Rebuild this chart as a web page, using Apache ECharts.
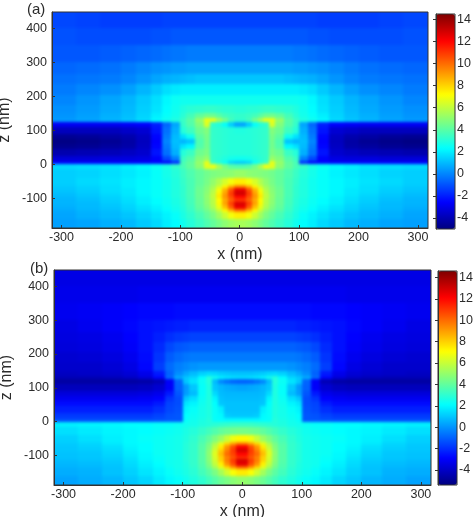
<!DOCTYPE html>
<html>
<head>
<meta charset="utf-8">
<script src="https://cdn.jsdelivr.net/npm/echarts@6/dist/echarts.min.js"></script>
<style>
html,body{margin:0;background:#fff}
#page{position:relative;width:474px;height:517px;overflow:hidden}
#chart{position:absolute;left:0;top:0;width:474px;height:517px}
.clip{position:absolute;overflow:hidden}
.heat{position:absolute;left:-12px;top:-12px;filter:blur(1.6px)}
</style>
</head>
<body>
<div id="page">
	<div class="clip" style="left:52px;top:12px;width:376px;height:216px"><div class="heat" id="heatA" style="width:400px;height:240px"></div></div>
	<div class="clip" style="left:54px;top:270px;width:377px;height:215px"><div class="heat" id="heatB" style="width:401px;height:239px"></div></div>
	<div id="chart"></div>
</div>
<script>
// cell edges in nm, the maps are mirror symmetric so only x>=0 is listed
var xEdges = [0,10,20,30,40,50,60,75,90,100,115,130,150,175,200,235,275,317];
var zEdges = [448,400,350,300,265,235,205,175,150,135,125,110,90,75,60,45,25,10,0,-15,-40,-60,-70,-80,-90,-100,-110,-120,-130,-140,-160,-187];
var xTicks = [-300,-200,-100,0,100,200,300];
var zTicks = [-100,0,100,200,300,400];
var barTicks = [-4,-2,0,2,4,6,8,10,12,14];

// one row per z cell, from x=0 outward
var mapA = [
[-1.3,-1.3,-1.3,-1.3,-1.3,-1.3,-1.3,-1.3,-1.3,-1.3,-1.3,-1.4,-1.4,-1.4,-1.4,-1.3,-1.2],
[-0.9,-0.9,-0.9,-0.9,-0.9,-0.9,-0.9,-0.9,-0.9,-0.9,-1,-1,-1.1,-1.1,-1.1,-1.1,-1],
[-0.2,-0.2,-0.2,-0.2,-0.2,-0.2,-0.2,-0.2,-0.3,-0.3,-0.4,-0.5,-0.6,-0.7,-0.8,-0.9,-0.9],
[0.5,0.5,0.5,0.5,0.5,0.5,0.5,0.5,0.4,0.4,0.3,0.2,0,-0.2,-0.4,-0.5,-0.6],
[1.2,1.2,1.2,1.2,1.2,1.2,1.2,1.1,1,0.9,0.8,0.6,0.3,0,-0.2,-0.3,-0.4],
[2,2,2,2,2,2,2,2,2,1.9,1.7,1.3,0.9,0.5,0.2,0,-0.2],
[2.6,2.6,2.6,2.6,2.6,2.6,2.6,2.6,2.6,2.5,2.2,1.7,1.3,0.9,0.6,0.3,0],
[3,3.1,3.1,3.2,3.3,3.3,3.2,3.1,2.9,2.6,2.3,1.8,1.4,1,0.7,0.4,0.2],
[3.3,3.4,3.6,4,4.4,4.5,4.2,3.6,3.1,2.7,2.4,2,1.5,1.1,0.8,0.5,0.3],
[3.2,3.6,4.6,5.5,6.8,6.8,5.2,4,3.4,2.9,2.6,2.2,1.6,1.2,0.9,0.6,0.4],
[0.6,1.4,2.4,3,3.2,6.5,4.8,3.9,3.3,0.6,-0.6,-2,-2.6,-2.7,-2.8,-2.8,-2.8],
[2.9,3,3.1,3.2,3.3,4.8,4.4,3.5,3,0.8,-0.4,-2.2,-3.4,-3.6,-3.8,-3.8,-3.8],
[3,3,3.1,3.2,3.3,4.6,4.1,2.6,1.8,1,-0.2,-2.5,-3.7,-4.1,-4.3,-4.5,-4.6],
[3,3,3.1,3.2,3.3,4.5,3.8,1.2,0.9,1.1,0,-2.6,-3.8,-4.3,-4.6,-4.8,-4.9],
[3,3,3.1,3.2,3.3,4.5,3.9,2.2,1.8,1,-0.2,-2.5,-3.7,-4.2,-4.4,-4.6,-4.7],
[3,3,3.1,3.2,3.3,4.7,4.4,3.4,3,0.8,-0.4,-2.2,-3.5,-3.7,-3.9,-4,-4.1],
[2.6,2.7,2.9,3.1,3.3,5.2,4.8,3.9,3.4,-0.1,-1.2,-2.6,-3.1,-3.2,-3.2,-3.3,-3.3],
[1.2,1.5,2.4,3,3.4,6.8,5.2,4.2,3.7,-1.8,-2.6,-2.5,-2.6,-2.6,-2.6,-2.6,-2.6],
[3.8,4,4.6,5.5,6.8,6.6,5,4.2,3.7,3.3,2.8,2.5,2.2,2,1.8,1.7,1.6],
[5.2,5,4.9,4.8,4.7,4.5,4.2,3.8,3.4,3,2.7,2.4,2.1,1.9,1.7,1.5,1.4],
[7.5,7,6.4,5.7,5.1,4.6,4.2,3.7,3.3,2.9,2.6,2.4,2.2,2,1.8,1.6,1.4],
[9.6,8.6,7.4,6.3,5.4,4.8,4.3,3.7,3.2,2.9,2.6,2.4,2.2,2,1.7,1.5,1.3],
[12.5,10.5,8.6,7,5.7,4.9,4.4,3.7,3.2,2.9,2.6,2.4,2.2,1.9,1.7,1.4,1.2],
[13,11,9,7.4,5.9,5,4.4,3.7,3.2,2.9,2.6,2.4,2.2,1.9,1.6,1.3,1.1],
[12,10.6,9.2,7.6,6,5.1,4.4,3.7,3.2,2.9,2.6,2.4,2.1,1.8,1.5,1.2,1],
[11.2,10.2,8.8,7.2,5.8,5,4.3,3.6,3.1,2.8,2.5,2.3,2,1.7,1.4,1.1,0.9],
[12.8,10.9,9,7.3,5.8,5,4.3,3.6,3.1,2.8,2.5,2.3,2,1.6,1.3,1,0.9],
[12.4,10.3,8.4,6.8,5.6,4.8,4.2,3.5,3,2.7,2.4,2.1,1.8,1.5,1.2,1,0.8],
[9.8,8.6,7.3,6.1,5.1,4.5,4,3.4,2.9,2.6,2.3,2,1.7,1.4,1.1,0.9,0.7],
[7.5,7,6.2,5.4,4.7,4.2,3.7,3.2,2.8,2.4,2.1,1.8,1.5,1.2,1,0.8,0.6],
[5.5,5.3,5,4.6,4.2,3.8,3.4,3,2.6,2.3,2,1.6,1.3,1,0.8,0.6,0.5]
];
var mapB = [
[-3.4,-3.4,-3.4,-3.4,-3.4,-3.4,-3.4,-3.4,-3.4,-3.4,-3.4,-3.4,-3.4,-3.4,-3.4,-3.4,-3.4],
[-3.2,-3.2,-3.2,-3.2,-3.2,-3.2,-3.2,-3.2,-3.2,-3.2,-3.2,-3.2,-3.2,-3.3,-3.3,-3.3,-3.3],
[-2.7,-2.7,-2.7,-2.7,-2.7,-2.7,-2.7,-2.7,-2.7,-2.7,-2.8,-2.8,-2.8,-2.9,-3,-3.1,-3.2],
[-2.2,-2.2,-2.2,-2.2,-2.2,-2.2,-2.2,-2.2,-2.3,-2.3,-2.4,-2.5,-2.6,-2.8,-3,-3.2,-3.4],
[-1.6,-1.6,-1.6,-1.6,-1.6,-1.6,-1.6,-1.6,-1.7,-1.8,-2,-2.3,-2.6,-2.9,-3.2,-3.4,-3.5],
[-1,-1,-1,-1,-1,-1,-1,-1,-1.1,-1.2,-1.5,-2.1,-2.6,-3,-3.3,-3.5,-3.6],
[-0.5,-0.5,-0.5,-0.5,-0.5,-0.5,-0.5,-0.5,-0.6,-0.8,-1.1,-1.9,-2.7,-3.2,-3.5,-3.7,-3.8],
[0.1,0.1,0.1,0.1,0.1,0.1,0.1,0,-0.2,-0.4,-0.8,-1.7,-2.8,-3.4,-3.7,-3.9,-3.9],
[0.9,0.9,1,1.1,1.3,1.4,1.2,0.8,0.4,-0.1,-1,-2.4,-3.3,-3.7,-3.9,-4,-4.1],
[1.5,1.6,1.7,1.9,2.4,2.8,2.1,1.3,1,0.5,-0.8,-2.8,-3.6,-4,-4.2,-4.3,-4.3],
[-1,-0.9,-0.6,-0.2,0.8,2.8,2.3,1.6,1,-0.9,-3,-4.3,-4.6,-4.7,-4.7,-4.7,-4.7],
[0.3,0.4,0.5,0.7,1,2.7,2.2,1,0.1,-1,-3,-3.8,-4.1,-4.2,-4.2,-4.2,-4.2],
[0.7,0.7,0.7,0.8,1.4,2.7,2.2,0.8,0.2,-1.2,-2.4,-3.3,-3.5,-3.6,-3.6,-3.6,-3.6],
[0.8,0.8,0.8,0.9,1.9,2.7,2.3,1.5,1,-1.4,-1.9,-2.9,-3.1,-3.2,-3.2,-3.2,-3.2],
[0.9,0.9,0.9,1,2.1,2.7,2.4,1.9,1.6,-1.4,-1.6,-2.4,-2.7,-2.7,-2.7,-2.7,-2.7],
[0.9,0.9,0.9,1.8,2.2,2.7,2.5,2.2,1.9,-1.3,-1.5,-2,-2.3,-2.3,-2.3,-2.3,-2.3],
[1,1,1.1,2,2.2,2.7,2.5,2.3,2.1,-1.2,-1.3,-1.6,-1.8,-1.8,-1.8,-1.8,-1.8],
[2,2,2,2.1,2.2,2.8,2.6,2.4,2.2,-1.2,-1.2,-1.3,-1.4,-1.4,-1.4,-1.4,-1.4],
[3.2,3.2,3.1,3,2.9,2.8,2.7,2.5,2.4,2.3,2.2,2.2,2.1,2.1,2,1.9,1.8],
[4.4,4.3,4.2,4,3.7,3.4,3.1,2.8,2.6,2.4,2.3,2.2,2.1,2,1.9,1.7,1.5],
[7.2,6.8,6,5.2,4.6,4,3.5,3,2.7,2.5,2.4,2.3,2.2,2,1.8,1.5,1.2],
[9.5,8.8,7.8,6.6,5.4,4.4,3.7,3.1,2.8,2.5,2.4,2.3,2.1,2,1.7,1.3,1.1],
[12.2,10.6,9.2,7.5,5.9,4.6,3.8,3.1,2.8,2.5,2.4,2.3,2.1,1.9,1.5,1.2,1],
[13,11,9.6,8.1,6.3,4.8,3.8,3.1,2.8,2.5,2.4,2.3,2.1,1.8,1.4,1.1,1],
[12,10.8,10,8.4,6.5,4.9,3.8,3.1,2.8,2.5,2.4,2.3,2,1.7,1.3,1,0.9],
[11.3,10.4,9.5,8,6.3,4.8,3.8,3.1,2.8,2.5,2.4,2.2,2,1.6,1.2,1,0.9],
[12.9,11,9.7,8,6.2,4.8,3.8,3.1,2.8,2.5,2.4,2.2,1.9,1.5,1.1,0.9,0.8],
[12.6,10.6,9.2,7.4,5.9,4.6,3.7,3.1,2.7,2.5,2.4,2.1,1.8,1.4,1,0.8,0.7],
[10,9,7.8,6.5,5.3,4.3,3.6,3,2.7,2.5,2.3,2,1.7,1.3,0.9,0.7,0.6],
[7.5,7,6.2,5.3,4.5,3.9,3.4,2.9,2.6,2.4,2.2,1.9,1.6,1.2,0.9,0.6,0.5],
[5,4.8,4.5,4.2,3.8,3.4,3,2.7,2.4,2.2,2,1.7,1.3,1,0.7,0.5,0.3]
];

var jet = ['#00007f','#0000ff','#007fff','#00ffff','#7fff7f','#ffff00','#ff7f00','#ff0000','#7f0000'];
var textColor = '#2b2b2b', fontName = 'Liberation Sans';
var xMin = -316, xMax = 317, zMin = -187, zMax = 448;

function cells(map){
	var out = [];
	map.forEach(function(row, r){
		row.forEach(function(v, c){
			out.push([xEdges[c], xEdges[c+1], zEdges[r], zEdges[r+1], v]);
			out.push([-xEdges[c+1], -xEdges[c], zEdges[r], zEdges[r+1], v]);
		});
	});
	return out;
}
function renderCell(params, api){
	var p0 = api.coord([api.value(0), api.value(2)]);
	var p1 = api.coord([api.value(1), api.value(3)]);
	var x0 = Math.round(p0[0]), y0 = Math.round(p0[1]), x1 = Math.round(p1[0]), y1 = Math.round(p1[1]);
	// border cells run on past the plot so the blur has no white to pick up, the wrapper clips them
	if(api.value(0) <= xMin) x0 -= 12;
	if(api.value(1) >= xMax-1) x1 += 12;
	if(api.value(2) >= zMax) y0 -= 12;
	if(api.value(3) <= zMin) y1 += 12;
	return {
		type: 'rect',
		shape: {x: x0, y: y0, width: x1 - x0, height: y1 - y0},
		style: {fill: api.visual('color')}
	};
}
// heat layer of one panel, in its own instance because it gets the css blur
function drawHeat(id, map, min, max, width, height){
	var chart = echarts.init(document.getElementById(id));
	chart.setOption({
		animation: false,
		grid: {left: 12, top: 12, width: width, height: height, outerBoundsMode: 'none'},
		xAxis: {type: 'value', min: xMin, max: xMax, show: false},
		yAxis: {type: 'value', min: zMin, max: zMax, show: false},
		visualMap: {show: false, type: 'continuous', dimension: 4, min: min, max: max, inRange: {color: jet}},
		series: [{type: 'custom', renderItem: renderCell, silent: true, clip: false, encode: {x: [0,1], y: [2,3]}, data: cells(map)}]
	});
	return chart;
}
function plotX(i, name){
	return {
		type: 'value', gridIndex: i, min: xMin, max: xMax, name: name, nameLocation: 'middle', nameGap: 19,
		nameTextStyle: {fontSize: 16, color: textColor, fontFamily: fontName},
		splitLine: {show: false}, axisLine: {onZero: false, lineStyle: {color: '#333'}},
		axisTick: {inside: true, length: 3, customValues: xTicks, lineStyle: {color: '#333'}},
		axisLabel: {customValues: xTicks, fontSize: 12.5, color: textColor, fontFamily: fontName, margin: 3}
	};
}
function plotY(i){
	return {
		type: 'value', gridIndex: i, min: zMin, max: zMax, name: 'z (nm)', nameLocation: 'middle', nameGap: 39, nameMoveOverlap: false,
		nameTextStyle: {fontSize: 16, color: textColor, fontFamily: fontName},
		splitLine: {show: false}, axisLine: {onZero: false, lineStyle: {color: '#333'}},
		axisTick: {inside: true, length: 3, customValues: zTicks, lineStyle: {color: '#333'}},
		axisLabel: {customValues: zTicks, fontSize: 12.5, color: textColor, fontFamily: fontName, margin: 5}
	};
}
function barX(i){
	return {type: 'value', gridIndex: i, min: 0, max: 1, show: false};
}
function barY(i, min, max){
	return {
		type: 'value', gridIndex: i, min: min, max: max, position: 'right', z: 6,
		splitLine: {show: false}, axisLine: {lineStyle: {color: '#333'}},
		axisTick: {inside: true, length: 3, customValues: barTicks, lineStyle: {color: '#333'}},
		axisLabel: {customValues: barTicks, fontSize: 12.5, color: textColor, fontFamily: fontName, margin: 2}
	};
}
function legendBar(min, max, left, top, height){
	return {
		type: 'continuous', seriesIndex: [], dimension: 0, min: min, max: max, calculable: false,
		left: left, top: top, itemWidth: 19, itemHeight: height, padding: 0, text: null, showLabel: false,
		inRange: {color: jet}, hoverLink: false
	};
}
function plotGrid(left, top, width, height){
	return {left: left, top: top, width: width, height: height, show: true, borderColor: '#333', borderWidth: 1, z: 5, outerBoundsMode: 'none'};
}

drawHeat('heatA', mapA, -5, 14.5, 376, 216);
drawHeat('heatB', mapB, -5.4, 14.6, 377, 215);

var myChart = echarts.init(document.getElementById('chart'));
myChart.setOption({
	animation: false,
	title: [
		{text: '(a)', left: 22, top: -3, textStyle: {fontSize: 15, fontWeight: 'normal', color: textColor, fontFamily: fontName}},
		{text: '(b)', left: 25, top: 256, textStyle: {fontSize: 15, fontWeight: 'normal', color: textColor, fontFamily: fontName}}
	],
	grid: [plotGrid(52, 12, 376, 216), plotGrid(54, 270, 377, 215), plotGrid(436, 14, 19, 215), plotGrid(438, 271, 19, 214)],
	xAxis: [plotX(0, 'x (nm)'), plotX(1, 'x (nm)'), barX(2), barX(3)],
	yAxis: [plotY(0), plotY(1), barY(2, -5, 14.5), barY(3, -5.4, 14.6)],
	visualMap: [
		legendBar(-5, 14.5, 436, 14, 215),
		legendBar(-5.4, 14.6, 438, 271, 214)
	],
	series: []
});
</script>
</body>
</html>
